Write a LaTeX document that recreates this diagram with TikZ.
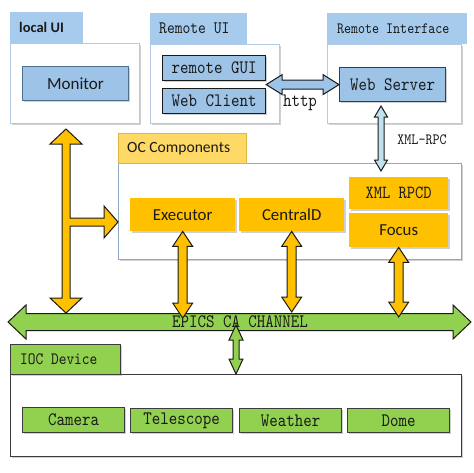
\documentclass[tikz,border=0pt]{standalone}
\usepackage{fontspec}
\usetikzlibrary{calc,shadows}
\newfontfamily\calfont{Carlito}
\newfontfamily\simfont[FakeStretch=0.85]{lmmono10-regular.otf}
\newcommand{\fs}[1]{\fontsize{#1}{#1}\selectfont}
\definecolor{lblue}{HTML}{9DC3E6}
\definecolor{tblue}{HTML}{A6CBEC}
\definecolor{bblue}{HTML}{B4C9E4}
\definecolor{gblue}{HTML}{8FA8C3}
\definecolor{mblue}{HTML}{4F6F8F}
\definecolor{gold}{HTML}{FFC000}
\definecolor{lgold}{HTML}{FFD966}
\definecolor{dgold}{HTML}{E0B540}
\definecolor{lgreen}{HTML}{92D050}
\definecolor{cyanish}{HTML}{BFE2EE}
\definecolor{ink}{HTML}{1A1A1A}
\begin{document}
\begin{tikzpicture}[x=1pt,y=-1pt,
  box/.style 2 args={rectangle, inner sep=0pt, anchor=north west,
     minimum width=#1pt, minimum height=#2pt},
  shad/.style={drop shadow={shadow xshift=1.5pt, shadow yshift=-1.5pt, opacity=0.3, fill=black!60}},
  tabtext/.style={anchor=west, inner sep=0pt, xshift=9pt, text=ink},
  blockout/.style={draw=ink, line width=1pt, line join=miter},
  vdbl/.style n args={3}{to path={let \p1=(\tikztostart), \p2=(\tikztotarget) in
     (\x1,\y1) -- (\x1+#2,\y1-#3) -- (\x1+#1,\y1-#3) -- (\x1+#1,\y2+#3) -- (\x1+#2,\y2+#3)
     -- (\x1,\y2) -- (\x1-#2,\y2+#3) -- (\x1-#1,\y2+#3) -- (\x1-#1,\y1-#3) -- (\x1-#2,\y1-#3) -- cycle}},
  hdbl/.style n args={3}{to path={let \p1=(\tikztostart), \p2=(\tikztotarget) in
     (\x1,\y1) -- (\x1+#3,\y1+#2) -- (\x1+#3,\y1+#1) -- (\x2-#3,\y1+#1) -- (\x2-#3,\y1+#2)
     -- (\x2,\y1) -- (\x2-#3,\y1-#2) -- (\x2-#3,\y1-#1) -- (\x1+#3,\y1-#1) -- (\x1+#3,\y1-#2) -- cycle}},
]
\useasboundingbox (0,0) rectangle (474,472);

% ---------- local UI ----------
\node[box={129}{80}, draw=bblue, line width=1pt, fill=white, shad] (localbody) at (10,43) {};
\node[box={73}{31}, fill=tblue,
  label={[tabtext, font=\calfont\bfseries\fs{14.5}]west:local UI}] (localtab) at (10,12) {};
\node[box={106}{34}, fill=lblue, draw=mblue, line width=1pt, shad,
  font=\calfont\fs{17}, text=ink] (monitor) at (22,66) {Monitor};

% ---------- Remote UI ----------
\node[box={129}{79}, draw=bblue, line width=1pt, fill=white, shad] (rembody) at (150,44) {};
\node[box={97}{31}, fill=tblue,
  label={[tabtext, font=\simfont\fs{17.5}]west:Remote UI}] (remtab) at (150,13) {};
\node[box={103}{25}, fill=lblue, draw=ink, line width=1.2pt, shad,
  font=\simfont\fs{19}, text=ink] (gui) at (162,55) {remote GUI};
\node[box={103}{25}, fill=lblue, draw=ink, line width=1.2pt, shad,
  font=\simfont\fs{19}, text=ink] (client) at (162,88) {Web Client};

% ---------- Remote Interface ----------
\node[box={134}{79}, draw=bblue, line width=1pt, fill=white, shad] (ribody) at (327,44) {};
\node[box={140}{31}, fill=tblue,
  label={[tabtext, font=\simfont\fs{15.7}, xshift=1pt]west:Remote Interface}] (ritab) at (327,13) {};
\node[box={106}{34}, fill=lblue, draw=ink!85, line width=1.2pt, shad,
  font=\simfont\fs{19}, text=ink] (webserver) at (339,67) {Web Server};

% ---------- OC Components ----------
\node[box={343}{96}, draw=gblue, line width=1pt, fill=white, shad] (ocbody) at (118,163) {};
\node[box={128}{30}, fill=lgold, draw=dgold, line width=0.6pt,
  label={[tabtext, font=\calfont\fs{15.6}]west:OC Components}] (octab) at (118,133) {};
\node[box={105}{33}, fill=gold, shad, font=\calfont\fs{16.8}, text=ink] (exec) at (130,198) {Executor};
\node[box={105}{33}, fill=gold, shad, font=\calfont\fs{16.8}, text=ink] (central) at (239,198) {CentralD};
\node[box={99}{32}, fill=gold, shad, font=\simfont\fs{18.5}, text=ink] (xmlrpcd) at (349,177) {XML RPCD};
\node[box={99}{34}, fill=gold, shad, font=\calfont\fs{16.8}, text=ink] (focus) at (349,213) {Focus};

% ---------- IOC Device ----------
\node[box={451}{82}, draw=ink!85, line width=1.2pt, fill=white, shad] (iocbody) at (10,374) {};
\node[box={110}{30}, fill=lgreen, draw=ink!85, line width=1.2pt, shad,
  label={[tabtext, font=\simfont\fs{17.3}, xshift=1pt]west:IOC Device}] (ioctab) at (10,344) {};
\node[box={102}{25}, fill=lgreen, draw=ink!85, line width=1.2pt, shad,
  font=\simfont\fs{19}, text=ink] (camera) at (22,407) {Camera};
\node[box={102}{24}, fill=lgreen, draw=ink!85, line width=1.2pt, shad,
  font=\simfont\fs{19}, text=ink] (telescope) at (130,408) {Telescope};
\node[box={102}{24}, fill=lgreen, draw=ink!85, line width=1.2pt, shad,
  font=\simfont\fs{19}, text=ink] (weather) at (239,408) {Weather};
\node[box={102}{24}, fill=lgreen, draw=ink!85, line width=1.2pt, shad,
  font=\simfont\fs{19}, text=ink] (dome) at (347,408) {Dome};

% ---------- coordinates for arrow ends ----------
\coordinate (busL) at (8,322);
\coordinate (busR) at (471,322);
\coordinate (luTop) at (66,129);
\coordinate (luBot) at (66,313);
\coordinate (luBr) at (118,222);
\coordinate (eBot) at (0,318);
\coordinate (cBot) at (0,312);
\coordinate (fBot) at (0,317);
\coordinate (xTop) at (381,106);
\coordinate (xBot) at (381,171);
\coordinate (iTop) at (236,325);

% ---------- http and XML-RPC arrows ----------
\draw[blockout, fill=lblue] (client.east |- webserver.west) to[hdbl={4.5pt}{10pt}{16pt}] (webserver.west);
\node[font=\simfont\fs{19}, text=ink, inner sep=0pt] (http) at (300,103) {http};
\draw[blockout, fill=cyanish] (xTop) to[vdbl={3pt}{6.5pt}{11pt}] (xBot);
\node[font=\simfont\fs{15.7}, text=ink, inner sep=0pt] (xmlrpc) at (422,140) {XML-RPC};

% ---------- EPICS CA channel ----------
\draw[blockout, fill=lgreen] (busL) to[hdbl={8.5pt}{17pt}{18pt}] (busR);
\node[font=\simfont\fs{19}, text=ink, inner sep=0pt] (epics) at (240,322) {EPICS CA CHANNEL};

% ---------- orange arrows ----------
\draw[blockout, fill=gold] let \p1=(luTop), \p2=(luBot), \p3=(luBr) in
  (\x1,\y1) -- (\x1+16,\y1-15) -- (\x1+4,\y1-15) -- (\x1+4,\y3+4) -- (\x3-14,\y3+4)
  -- (\x3-14,\y3+16) -- (\x3,\y3) -- (\x3-14,\y3-16) -- (\x3-14,\y3-4) -- (\x1+4,\y3-4)
  -- (\x1+4,\y2+15) -- (\x1+16,\y2+15) -- (\x1,\y2) -- (\x1-16,\y2+15) -- (\x1-4,\y2+15)
  -- (\x1-4,\y1-15) -- (\x1-16,\y1-15) -- cycle;
\draw[blockout, fill=gold] (exec.south) to[vdbl={4.5pt}{10pt}{15pt}] (exec.south |- eBot);
\draw[blockout, fill=gold] (central.south) to[vdbl={4.5pt}{10pt}{15pt}] (central.south |- cBot);
\draw[blockout, fill=gold] (focus.south) to[vdbl={4.5pt}{10pt}{15pt}] (focus.south |- fBot);

% ---------- IOC link ----------
\draw[blockout, fill=lgreen] (iTop) to[vdbl={3pt}{7pt}{15pt}] (iTop |- iocbody.north);
\end{tikzpicture}
\end{document}
